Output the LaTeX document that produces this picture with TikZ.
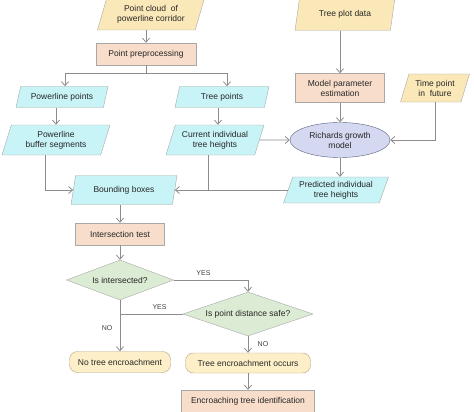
\documentclass[tikz,border=0pt]{standalone}
\usepackage{fontspec}
\setmainfont{Liberation Sans}
\usetikzlibrary{shapes.geometric,arrows.meta}

\definecolor{inputfill}{HTML}{FBE8B8}
\definecolor{procfill}{HTML}{F8DDCB}
\definecolor{datafill}{HTML}{C8F4F7}
\definecolor{decfill}{HTML}{DCEBD4}
\definecolor{termfill}{HTML}{FDF0C8}
\definecolor{ellfill}{HTML}{D4D8F0}
\definecolor{ellline}{HTML}{5A6080}
\definecolor{edgegray}{HTML}{A8A8A8}
\definecolor{linegray}{HTML}{8C8C8C}

\tikzset{
  >={Straight Barb[length=4pt,width=7pt]},
  every node/.style={font=\fontsize{8.5}{10}\selectfont, text=black!85, align=center},
  para/.style={trapezium, trapezium left angle=65, trapezium right angle=115,
    trapezium stretches body=true, draw=edgegray, inner sep=1pt},
  input/.style={para, fill=inputfill},
  data/.style={para, fill=datafill},
  proc/.style={rectangle, draw=edgegray, fill=procfill, inner sep=1pt},
  decide/.style={diamond, shape aspect=3, draw=edgegray, fill=decfill, inner sep=0pt},
  term/.style={rectangle, rounded corners=8pt, draw=edgegray!80!orange, fill=termfill, inner sep=1pt},
  conn/.style={draw=linegray, line width=0.8pt},
  lbl/.style={font=\fontsize{7}{8}\selectfont, text=black!75},
}

\begin{document}
\begin{tikzpicture}[x=1pt,y=-1pt]
\useasboundingbox (0,0) rectangle (474,412);

% inputs
\node[input, minimum width=107pt, minimum height=32pt] (cloud) at (151,14) {Point cloud\ \ of\\powerline corridor};
\node[input, minimum width=100pt, minimum height=33pt] (plot) at (345,14) {Tree plot data};
\node[input, minimum width=69pt, minimum height=28pt] (future) at (435,88) {Time point\\in\ \ future};

% processes
\node[proc, minimum width=100pt, minimum height=22pt] (prep) at (146,54) {Point preprocessing};
\node[proc, minimum width=89pt, minimum height=29pt] (param) at (340,88) {Model parameter\\estimation};
\node[proc, minimum width=89pt, minimum height=22pt] (inter) at (120,234) {Intersection test};
\node[proc, minimum width=133pt, minimum height=22pt] (ident) at (248,401) {Encroaching tree identification};

% data
\node[data, minimum width=92pt, minimum height=21pt] (plpts) at (62,97) {Powerline points};
\node[data, minimum width=108pt, minimum height=30pt] (plbuf) at (56,140) {Powerline\\buffer segments};
\node[data, minimum width=94pt, minimum height=21pt] (treepts) at (222,97) {Tree points};
\node[data, minimum width=98pt, minimum height=30pt] (curr) at (215,140) {Current individual\\tree heights};
\node[data, minimum width=105pt, minimum height=26pt] (pred) at (336,190) {Predicted individual\\tree heights};
\node[data, minimum width=106pt, minimum height=29pt] (bbox) at (124,190) {Bounding boxes};

% model
\node[ellipse, draw=ellline, fill=ellfill, minimum width=100pt, minimum height=35pt, inner sep=0pt] (growth) at (340,140) {Richards growth\\model};

% decisions and results
\node[decide, minimum width=107pt, minimum height=40pt] (isint) at (120,280) {Is intersected?};
\node[decide, minimum width=130pt, minimum height=44pt] (safe) at (248,314) {Is point distance safe?};
\node[term, minimum width=101pt, minimum height=21pt] (noenc) at (120,362) {No tree encroachment};
\node[term, minimum width=125pt, minimum height=20pt] (enc) at (248,363) {Tree encroachment occurs};

% connectors
\draw[conn,->] (cloud.south -| prep.north) -- (prep.north);
\draw[conn,->] (prep.south) -- ++(0,8) -| ([xshift=3pt]plpts.north);
\draw[conn,->] (prep.south) -- ++(0,8) -| ([xshift=5pt]treepts.north);
\draw[conn,->] (plbuf.north |- plpts.south) -- (plbuf.north);
\draw[conn,->] ([xshift=-4pt]treepts.south) -- ([xshift=-4pt]treepts.south |- curr.north);
\draw[conn,->] ([xshift=-11pt]plbuf.south) |- (bbox.west);
\draw[conn,->] ([xshift=-7pt]curr.south) |- (bbox.east);
\draw[conn] (pred.west) -- ([xshift=-7pt]curr.south |- pred.west);
\draw[conn,->] (curr.east) -- (growth.west);
\draw[conn,->] (param.north |- plot.south) -- (param.north);
\draw[conn,->] (param.south) -- (growth.north);
\draw[conn,->] (future.south) |- (growth.east);
\draw[conn,->] (growth.south) -- (growth.south |- pred.north);
\draw[conn,->] (inter.north |- bbox.south) -- (inter.north);
\draw[conn,->] (inter.south) -- (isint.north);
\draw[conn,->] (isint.east) -| (safe.north) node[lbl, pos=0.2, above=1pt] (yes1) {YES};
\draw[conn,->] (isint.south) -- (noenc.north) node[lbl, pos=0.55, left=4pt] (no1) {NO};
\draw[conn] (safe.west) -- (safe.west -| isint.south) node[lbl, pos=0.37, above=1pt] (yes2) {YES};
\draw[conn,->] (safe.south) -- (enc.north) node[lbl, midway, right=6pt] (no2) {NO};
\draw[conn,->] (enc.south) -- (ident.north);
\end{tikzpicture}
\end{document}
